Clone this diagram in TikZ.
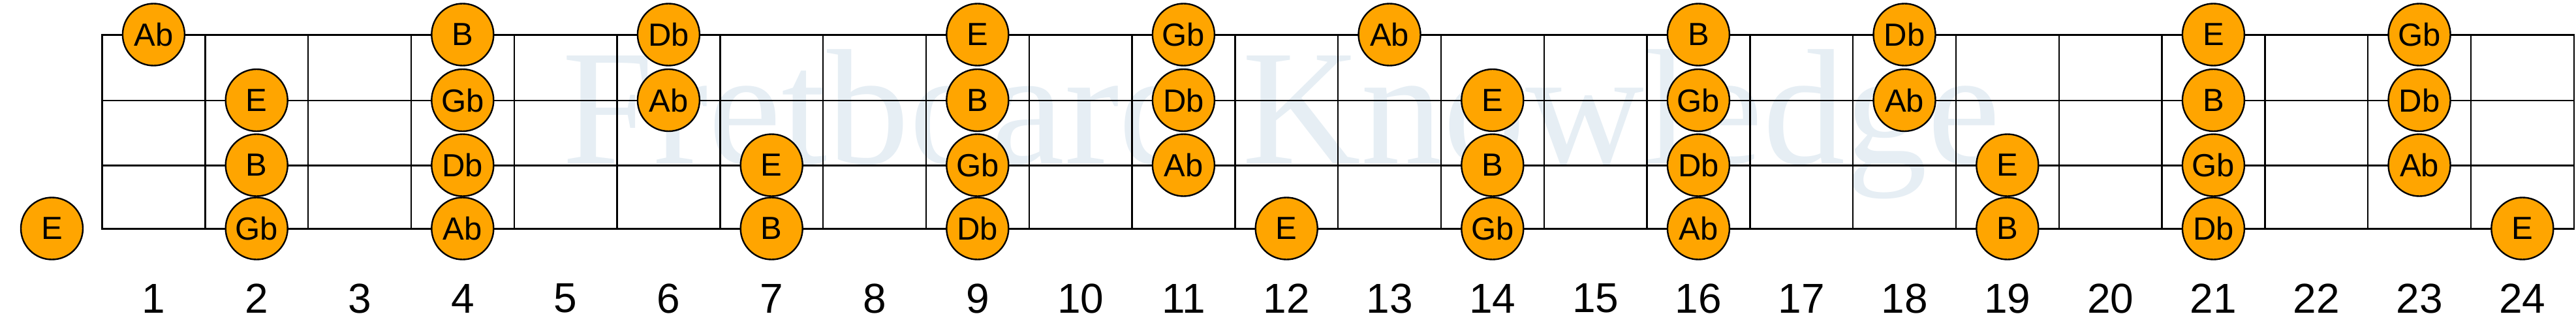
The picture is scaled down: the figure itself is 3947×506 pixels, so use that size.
\documentclass[tikz,border=0pt]{standalone}
\usepackage{fontspec}
\setmainfont{Liberation Sans}
\newfontfamily\wmfont{Liberation Serif}
\definecolor{notefill}{HTML}{FFA500}
\definecolor{wmcolor}{HTML}{E6EEF4}
\begin{document}
\begin{tikzpicture}[x=1pt,y=-1pt,
  gridline/.style={line width=2.4pt, black, line cap=rect},
  note/.style={circle, draw=black, line width=2.4pt, fill=notefill, minimum size=95pt, inner sep=0pt, font=\fontsize{49}{49}\selectfont},
  fretnum/.style={font=\fontsize{64}{64}\selectfont, inner sep=0pt},
  watermark/.style={font=\wmfont\fontsize{252}{252}\selectfont, text=wmcolor, inner sep=0pt, anchor=base west}]
\useasboundingbox (0,0) rectangle (3947,506);
% watermark
\node[watermark] (wm) at (861,250) {Fretboard Knowledge};
% strings
\foreach \s/\y in {1/53.5,2/153.7,3/253.5,4/350.3}{
  \coordinate (sL\s) at (156.5,\y);
  \coordinate (sR\s) at (3944,\y);
  \draw[gridline] (sL\s) -- (sR\s);
}
% frets
\foreach \f in {0,...,24}{
  \coordinate (fT\f) at (156.5+\f*157.8,53.5);
  \coordinate (fB\f) at (156.5+\f*157.8,350.3);
  \draw[gridline] (fT\f) -- (fB\f);
}
% notes
\foreach \s/\f/\t in {
  1/1/Ab,1/4/B,1/6/Db,1/9/E,1/11/Gb,1/13/Ab,1/16/B,1/18/Db,1/21/E,1/23/Gb,
  2/2/E,2/4/Gb,2/6/Ab,2/9/B,2/11/Db,2/14/E,2/16/Gb,2/18/Ab,2/21/B,2/23/Db,
  3/2/B,3/4/Db,3/7/E,3/9/Gb,3/11/Ab,3/14/B,3/16/Db,3/19/E,3/21/Gb,3/23/Ab,
  4/2/Gb,4/4/Ab,4/7/B,4/9/Db,4/12/E,4/14/Gb,4/16/Ab,4/19/B,4/21/Db,4/24/E}{
  \pgfmathsetmacro\yy{{53,153.5,253,350}[\s-1]}
  \pgfmathsetmacro\xx{156.5+(\f-0.5)*157.8}
  \node[note] (n\s-\f) at (\xx,\yy) {\t};
}
\node[note] (n4-0) at (79.5,350) {E};
% fret numbers
\foreach \f in {1,...,24}{
  \node[fretnum] (num\f) at (156.5+\f*157.8-78.9,457) {\f};
}
\end{tikzpicture}
\end{document}
